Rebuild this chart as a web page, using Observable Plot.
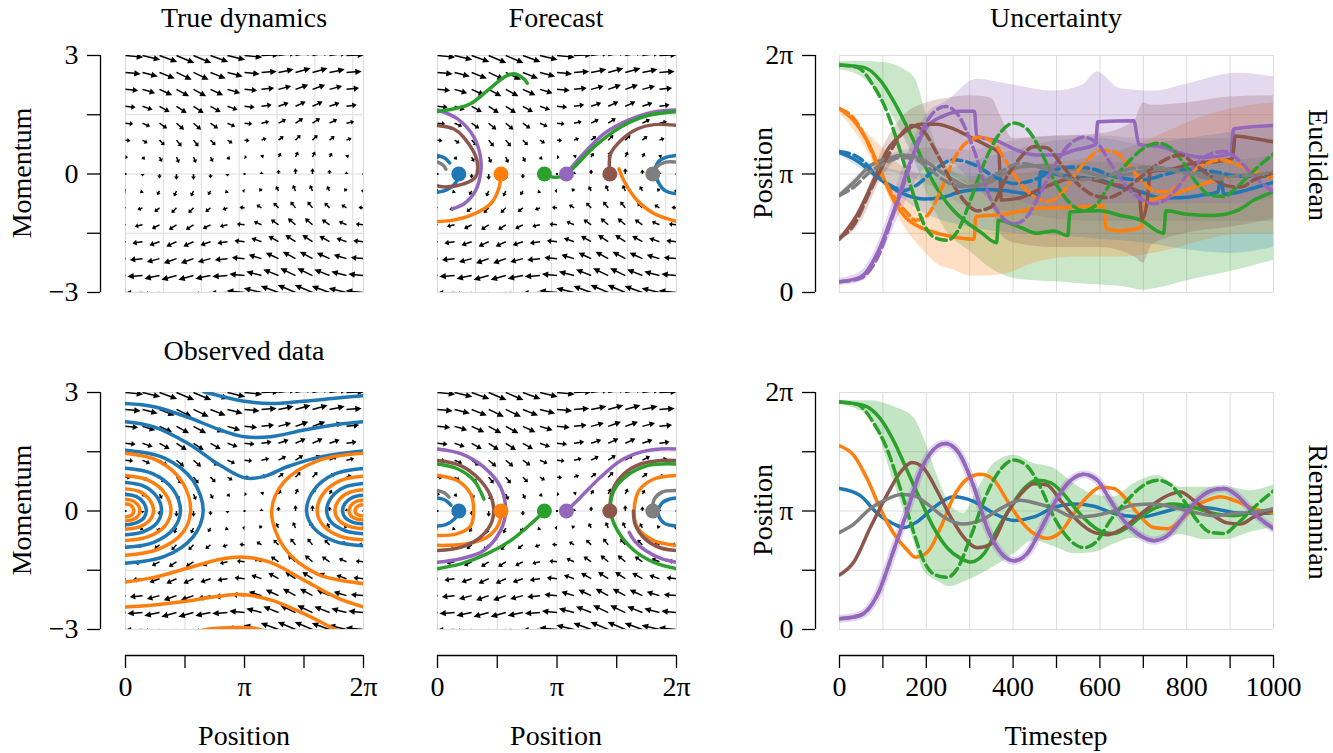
<!DOCTYPE html>
<html><head><meta charset="utf-8">
<script src="https://cdn.jsdelivr.net/npm/d3@7"></script>
<script src="https://cdn.jsdelivr.net/npm/@observablehq/plot@0.6"></script>
<style>
body{margin:0;background:#fff;}
#root{position:relative;width:1333px;height:753px;overflow:hidden;font-family:"Liberation Serif",serif;background:#fff;}
.lbl{position:absolute;font-size:28px;white-space:nowrap;line-height:1.15;color:#000;}
</style></head><body><div id="root"></div>
<script>
// ---------------- DATA ----------------
// quiver grid (position in radians, momentum)
const posGrid = [0, 0.449, 0.898, 1.346, 1.795, 2.244, 2.693, 3.142, 3.590, 4.039, 4.488, 4.937, 5.386, 5.834, 6.283];
const momGrid = [3, 2.571, 2.143, 1.714, 1.286, 0.857, 0.429, 0, -0.429, -0.857, -1.286, -1.714, -2.143, -2.571, -3];
const accelByPos = [0, -0.43, -0.78, -0.97, -0.97, -0.78, -0.43, 0, 0.43, 0.78, 0.97, 0.97, 0.78, 0.43, 0];
const dragByMom = [-0.3, -0.26, -0.21, -0.17, -0.13, -0.09, -0.04, 0, 0.04, 0.09, 0.13, 0.17, 0.21, 0.26, 0.3];

const posTicks = [0, 1.571, 3.142, 4.712, 6.283];
const posTickLabels = ["0", "", "π", "", "2π"];
const posGridTop = [0, 1, 2, 3, 4, 5, 6, 6.283];
const momTicks = [-3, -1.5, 0, 1.5, 3];
const momTickLabels = ["−3", "", "0", "", "3"];
const timeTicks = [0, 100, 200, 300, 400, 500, 600, 700, 800, 900, 1000];
const timeTickLabels = ["0", "", "200", "", "400", "", "600", "", "800", "", "1000"];
const angleTicks = [0, 0.5, 1, 1.5, 2]; // multiples of π
const angleTickLabels = ["0", "", "π", "", "2π"];

// observed data trajectories [position, momentum], one array per segment
const obsBlueA = [[2.07,3.02],[2.6,2.89],[3.14,2.78],[3.83,2.72],[4.71,2.78],[5.59,2.86],[6.283,2.92]];
const obsBlueB = [[0,2.72],[0.75,2.64],[1.63,2.38],[2.51,2.05],[3.14,1.88],[3.83,1.88],[4.71,2.05],[5.59,2.19],[6.283,2.26]];
const obsBlueC = [[0,2.26],[0.75,2.13],[1.63,1.72],[2.51,1.15],[3.14,0.84],[3.65,0.87],[4.27,1.12],[5.15,1.37],[6.283,1.52]];
const obsBlueL1 = [[0,1.54],[1.03,1.34],[1.78,0.77],[2.05,0],[1.78,-0.66],[1.03,-1.15],[0,-1.32]];
const obsBlueL3 = [[0,1.08],[0.73,0.94],[1.26,0.54],[1.45,0],[1.26,-0.46],[0.73,-0.8],[0,-0.92]];
const obsBlueL5 = [[0,0.72],[0.48,0.63],[0.83,0.36],[0.95,0],[0.83,-0.3],[0.48,-0.52],[0,-0.6]];
const obsBlueL7 = [[0,0.42],[0.28,0.37],[0.48,0.21],[0.55,0],[0.48,-0.18],[0.28,-0.3],[0,-0.35]];
const obsBlueR2 = [[6.283,1.08],[5.53,0.94],[4.98,0.54],[4.78,0],[4.98,-0.44],[5.53,-0.77],[6.283,-0.88]];
const obsBlueR4 = [[6.283,0.7],[5.8,0.61],[5.44,0.35],[5.31,0],[5.44,-0.29],[5.8,-0.5],[6.283,-0.58]];
const obsBlueR6 = [[6.283,0.4],[6.01,0.35],[5.8,0.2],[5.73,0],[5.8,-0.17],[6.01,-0.29],[6.283,-0.33]];
const obsOrangeD = [[6.283,-2.43],[5.59,-2.2],[4.71,-1.75],[3.83,-1.3],[3.14,-1.17],[2.51,-1.22],[1.63,-1.45],[0.75,-1.68],[0,-1.8]];
const obsOrangeE = [[0,-2.43],[0.75,-2.38],[1.63,-2.28],[2.51,-2.15],[3.14,-2.12],[3.83,-2.25],[4.71,-2.6],[5.5,-2.98],[5.8,-3.1]];
const obsOrangeF = [[1.7,-3.1],[2.2,-2.99],[2.9,-2.95],[3.4,-2.97],[3.9,-3.1]];
const obsOrangeL2 = [[0,1.46],[0.86,1.27],[1.5,0.73],[1.72,0],[1.5,-0.56],[0.86,-0.97],[0,-1.12]];
const obsOrangeL4 = [[0,0.9],[0.6,0.78],[1.04,0.45],[1.2,0],[1.04,-0.38],[0.6,-0.65],[0,-0.75]];
const obsOrangeL6 = [[0,0.56],[0.37,0.49],[0.64,0.28],[0.74,0],[0.64,-0.23],[0.37,-0.4],[0,-0.46]];
const obsOrangeL8 = [[0,0.3],[0.19,0.26],[0.33,0.15],[0.38,0],[0.33,-0.13],[0.19,-0.22],[0,-0.25]];
const obsOrangeL9 = [[0,0.18],[0.11,0.16],[0.19,0.09],[0.22,0],[0.19,-0.08],[0.11,-0.13],[0,-0.15]];
const obsOrangeR1 = [[6.283,1.46],[5.07,1.27],[4.18,0.73],[3.86,0],[4.18,-0.92],[5.07,-1.6],[6.283,-1.84]];
const obsOrangeR3 = [[6.283,0.88],[5.67,0.77],[5.22,0.44],[5.06,0],[5.22,-0.37],[5.67,-0.64],[6.283,-0.73]];
const obsOrangeR5 = [[6.283,0.54],[5.91,0.47],[5.63,0.27],[5.53,0],[5.63,-0.23],[5.91,-0.39],[6.283,-0.45]];
const obsOrangeR7 = [[6.283,0.28],[6.09,0.24],[5.95,0.14],[5.9,0],[5.95,-0.12],[6.09,-0.2],[6.283,-0.23]];
const obsOrangeR8 = [[6.283,0.16],[6.17,0.14],[6.09,0.08],[6.06,0],[6.09,-0.07],[6.17,-0.11],[6.283,-0.13]];

// forecast start positions (momentum 0): blue, orange, green, purple, brown, gray
const startPos = [0.56, 1.67, 2.81, 3.39, 4.53, 5.66];

// Euclidean forecast trajectories
const fcEuBlue = [[[0.56,0],[0.48,-0.22],[0.25,-0.4],[0,-0.46]], [[6.283,-0.5],[5.98,-0.42],[5.8,-0.2],[5.72,0.05],[5.8,0.3],[6.0,0.42],[6.283,0.47]], [[0,0.47],[0.2,0.4],[0.32,0.28]]];
const fcEuOrange = [[[1.66,0],[1.62,-0.34],[1.39,-0.76],[0.87,-1.05],[0.34,-1.18],[0,-1.2]], [[6.283,-1.2],[5.69,-1.0],[5.25,-0.67],[4.9,-0.17],[4.77,0.13]]];
const fcEuGreen = [[[2.8,0],[3.05,-0.08],[3.32,-0.05],[3.59,0.17],[4.11,0.68],[4.82,1.19],[5.52,1.48],[6.283,1.58]], [[0,1.58],[0.43,1.65],[0.87,1.78],[1.31,2.11],[1.75,2.45],[2.01,2.54],[2.27,2.41],[2.36,2.3]]];
const fcEuPurple = [[[3.39,0],[3.76,0.43],[4.38,1.02],[4.99,1.35],[5.69,1.57],[6.283,1.62]], [[0,1.62],[0.52,1.4],[0.96,0.93],[1.13,0.43],[1.13,0],[1.0,-0.42],[0.69,-0.76],[0.39,-0.88]]];
const fcEuBrown = [[[4.53,0],[4.55,0.51],[4.82,0.85],[5.25,1.14],[5.69,1.25],[6.283,1.23]], [[0,1.23],[0.43,1.14],[0.69,0.93],[1.04,0.34],[1.0,-0.08],[0.69,-0.25],[0.21,-0.33],[0,-0.3]]];
const fcEuGray = [[[5.66,0],[5.76,0.18],[6.0,0.3],[6.283,0.3]], [[0,0.3],[0.15,0.22],[0.22,0.12]]];

// Riemannian forecast trajectories
const fcRiBlue = [[[0.56,0],[0.45,-0.2],[0.2,-0.35],[0,-0.38]], [[6.283,-0.38],[5.95,-0.3],[5.8,-0.05],[5.9,0.2],[6.1,0.3],[6.283,0.33]], [[0,0.33],[0.2,0.28],[0.35,0.15]]];
const fcRiOrange = [[[1.68,0],[1.61,-0.33],[1.31,-0.66],[0.78,-0.83],[0.25,-0.87],[0,-0.87]], [[6.283,-0.87],[5.69,-0.75],[5.25,-0.41],[5.17,0],[5.3,0.52],[5.69,0.81],[6.283,0.9]], [[0,0.9],[0.52,0.77],[0.87,0.43],[0.95,0],[0.87,-0.38],[0.5,-0.58],[0,-0.62]]];
const fcRiGreen = [[[2.82,0],[2.45,-0.33],[1.92,-0.75],[1.31,-1.08],[0.61,-1.34],[0,-1.46]], [[6.283,-1.46],[5.69,-1.3],[5.17,-1.0],[4.73,-0.49],[4.55,0],[4.64,0.52],[4.99,0.9],[5.52,1.15],[6.283,1.19]], [[0,1.19],[0.52,1.07],[0.96,0.77],[1.22,0.3]]];
const fcRiPurple = [[[3.39,0],[3.76,0.35],[4.29,0.86],[4.82,1.28],[5.34,1.49],[5.87,1.57],[6.283,1.57]], [[0,1.57],[0.61,1.45],[1.22,1.11],[1.66,0.6],[1.79,0],[1.66,-0.49],[1.22,-1.0],[0.61,-1.21],[0,-1.3]], [[6.283,-1.3],[5.87,-1.2],[5.47,-1.0],[5.2,-0.78],[5.04,-0.54]]];
const fcRiBrown = [[[4.53,0],[4.6,0.52],[4.9,0.94],[5.34,1.19],[5.87,1.28],[6.283,1.28]], [[0,1.28],[0.61,1.15],[1.13,0.77],[1.44,0.27],[1.44,-0.24],[1.13,-0.66],[0.61,-0.92],[0,-1.0]], [[6.283,-1.0],[5.85,-0.93],[5.45,-0.7],[5.2,-0.35],[5.15,0]]];
const fcRiGray = [[[5.65,0],[5.7,0.3],[5.9,0.48],[6.283,0.52]], [[0,0.52],[0.2,0.45],[0.3,0.35]]];

// ground-truth position over time [timestep, position / π]
const truthBlue = [[0,1.19],[48,1.13],[87,0.98],[125,0.89],[148,0.86],[179,0.91],[217,1.03],[263,1.12],[310,1.08],[356,0.98],[402,0.92],[448,0.95],[494,1.03],[540,1.06],[586,1.04],[632,0.98],[694,0.95],[755,1.0],[801,1.04],[862,1.02],[924,0.98],[1000,0.98]];
const truthOrange = [[0,1.55],[33,1.47],[64,1.27],[94,1.02],[125,0.81],[156,0.67],[175,0.61],[202,0.65],[233,0.86],[263,1.12],[294,1.27],[325,1.31],[356,1.26],[386,1.09],[417,0.92],[448,0.81],[478,0.77],[509,0.82],[540,0.98],[571,1.12],[601,1.2],[632,1.19],[663,1.09],[694,0.95],[724,0.86],[755,0.85],[786,0.92],[816,1.03],[847,1.09],[878,1.12],[909,1.09],[955,1.02],[1000,0.98]];
const truthGreen = [[0,1.92],[41,1.9],[79,1.74],[110,1.52],[141,1.18],[171,0.82],[194,0.58],[221,0.46],[248,0.44],[271,0.51],[302,0.78],[333,1.09],[363,1.31],[402,1.43],[432,1.38],[463,1.2],[494,0.95],[532,0.75],[563,0.69],[594,0.75],[624,0.92],[663,1.09],[694,1.2],[732,1.26],[763,1.22],[793,1.09],[824,0.92],[855,0.82],[886,0.81],[916,0.89],[955,1.03],[1000,1.17]];
const truthPurple = [[0,0.09],[48,0.12],[87,0.29],[125,0.67],[156,1.0],[187,1.34],[217,1.52],[244,1.57],[271,1.51],[310,1.2],[340,0.86],[371,0.65],[402,0.58],[432,0.64],[463,0.84],[494,1.06],[525,1.23],[563,1.31],[594,1.26],[624,1.09],[655,0.92],[686,0.81],[724,0.75],[755,0.79],[786,0.92],[816,1.06],[855,1.17],[886,1.19],[916,1.13],[955,0.98],[1000,0.85]];
const truthBrown = [[0,0.46],[33,0.57],[71,0.86],[110,1.14],[141,1.33],[167,1.41],[194,1.36],[225,1.17],[256,0.95],[286,0.78],[317,0.69],[348,0.72],[386,0.98],[417,1.14],[448,1.23],[478,1.22],[509,1.09],[548,0.92],[586,0.82],[617,0.8],[647,0.84],[686,0.95],[724,1.06],[762,1.14],[786,1.16],[816,1.09],[855,0.98],[893,0.9],[924,0.89],[955,0.95],[1000,1.01]];
const truthGray = [[0,0.82],[33,0.89],[71,1.02],[110,1.1],[141,1.14],[171,1.13],[202,1.06],[240,0.95],[286,0.89],[325,0.92],[371,1.02],[417,1.09],[448,1.07],[494,1.02],[540,0.95],[586,0.96],[632,1.0],[678,1.05],[724,1.06],[770,1.03],[816,0.99],[862,0.96],[909,0.98],[955,0.99],[1000,1.02]];

// Euclidean predicted means [timestep, position / π]
const euclBlue = [[0,1.18],[41,1.11],[79,1.0],[118,0.89],[156,0.82],[194,0.79],[233,0.8],[279,0.85],[325,0.87],[379,0.86],[417,0.84],[459,0.82],[463,1.02],[509,0.99],[555,0.97],[601,0.95],[647,0.89],[694,0.85],[740,0.8],[786,0.8],[832,0.82],[872,0.85],[878,0.97],[886,0.83],[924,0.85],[962,0.89],[1000,0.93]];
const euclOrange = [[0,1.55],[33,1.45],[64,1.28],[94,1.03],[125,0.78],[156,0.62],[187,0.55],[225,0.5],[263,0.47],[310,0.45],[314,0.64],[379,0.66],[455,0.71],[532,0.72],[609,0.73],[614,0.54],[647,0.52],[695,0.55],[705,0.76],[763,0.82],[816,0.89],[878,0.96],[939,0.99],[1000,0.97]];
const euclGreen = [[0,1.92],[56,1.9],[94,1.79],[133,1.56],[171,1.28],[202,1.03],[233,0.83],[263,0.69],[294,0.59],[325,0.51],[362,0.42],[366,0.61],[417,0.55],[455,0.5],[494,0.52],[526,0.48],[531,0.68],[601,0.69],[647,0.65],[694,0.61],[747,0.5],[752,0.69],[801,0.66],[862,0.65],[916,0.69],[955,0.78],[1000,0.85]];
const euclPurple = [[0,0.09],[48,0.13],[87,0.33],[125,0.69],[164,1.11],[202,1.4],[240,1.49],[279,1.53],[311,1.53],[316,1.32],[363,1.28],[409,1.2],[455,1.16],[502,1.16],[540,1.2],[590,1.25],[595,1.44],[678,1.45],[690,1.25],[740,1.23],[801,1.16],[839,1.14],[902,1.17],[908,1.38],[1000,1.41]];
const euclBrown = [[0,0.45],[41,0.66],[79,0.95],[110,1.2],[148,1.35],[187,1.42],[225,1.42],[263,1.38],[302,1.31],[340,1.24],[367,1.18],[373,0.78],[417,0.8],[455,0.86],[494,0.92],[532,0.96],[571,0.96],[617,0.92],[663,0.89],[690,0.85],[697,0.62],[710,0.8],[716,1.02],[763,1.04],[816,1.09],[878,1.11],[905,1.13],[912,1.32],[955,1.3],[1000,1.27]];
const euclGray = [[0,0.82],[33,0.93],[71,1.07],[110,1.13],[148,1.16],[187,1.13],[225,1.04],[263,0.95],[302,0.89],[340,0.92],[379,1.0],[417,1.06],[463,1.07],[509,1.06],[555,1.03],[601,0.99],[647,0.99],[694,1.02],[740,1.04],[786,1.03],[832,1.0],[878,0.99],[924,0.99],[1000,1.0]];

// Euclidean uncertainty bands [timestep, low / π, high / π]
const bandEuBlue = [[0,1.16,1.2],[100,0.92,1.06],[200,0.66,1.0],[300,0.55,1.1],[400,0.5,1.2],[500,0.48,1.28],[600,0.45,1.3],[700,0.42,1.25],[800,0.36,1.3],[900,0.33,1.35],[1000,0.38,1.4]];
const bandEuOrange = [[0,1.52,1.58],[60,1.22,1.36],[100,0.92,1.22],[150,0.55,1.05],[187,0.38,1.0],[225,0.24,0.96],[263,0.19,0.95],[300,0.14,0.95],[340,0.14,0.98],[386,0.16,1.02],[450,0.25,1.08],[550,0.3,1.12],[650,0.3,1.2],[750,0.35,1.35],[850,0.45,1.5],[950,0.5,1.58],[1000,0.5,1.6]];
const bandEuGreen = [[0,1.88,1.95],[50,1.82,1.95],[100,1.62,1.94],[150,1.3,1.88],[175,1.1,1.8],[200,0.85,1.5],[225,0.65,1.22],[250,0.5,1.05],[300,0.35,0.98],[350,0.2,0.98],[400,0.12,1.0],[450,0.1,1.02],[500,0.09,1.05],[570,0.07,1.1],[650,0.05,1.1],[700,0.02,1.08],[750,0.05,1.05],[800,0.1,1.06],[880,0.16,1.1],[1000,0.27,1.15]];
const bandEuPurple = [[0,0.06,0.12],[50,0.09,0.18],[100,0.35,0.52],[150,0.75,1.1],[200,1.05,1.5],[250,1.1,1.62],[317,0.9,1.8],[386,0.8,1.76],[494,0.72,1.7],[560,0.72,1.75],[594,0.75,1.86],[647,0.75,1.72],[724,0.75,1.7],[801,0.75,1.76],[916,0.75,1.85],[1000,0.8,1.82]];
const bandEuBrown = [[0,0.43,0.48],[50,0.6,0.72],[100,0.98,1.22],[150,1.15,1.5],[200,1.1,1.6],[250,1.0,1.64],[300,0.9,1.66],[350,0.75,1.64],[370,0.5,1.5],[400,0.42,1.3],[500,0.38,1.32],[600,0.38,1.34],[680,0.3,1.45],[700,0.25,1.6],[720,0.4,1.58],[800,0.5,1.6],[900,0.55,1.65],[1000,0.62,1.66]];
const bandEuGray = [[0,0.8,0.84],[100,1.02,1.14],[200,0.92,1.22],[300,0.72,1.2],[400,0.68,1.28],[500,0.62,1.32],[600,0.6,1.32],[700,0.6,1.3],[800,0.6,1.3],[900,0.6,1.3],[1000,0.6,1.3]];

// Riemannian predicted mean (green deviates; others follow the truth)
const riemGreen = [[0,1.92],[56,1.89],[94,1.78],[125,1.59],[156,1.34],[187,1.09],[217,0.86],[248,0.69],[279,0.6],[302,0.57],[333,0.64],[363,0.84],[394,1.03],[425,1.19],[455,1.26],[486,1.24],[517,1.14],[548,1.0],[578,0.89],[609,0.82],[632,0.81],[663,0.86],[694,0.95],[724,1.02],[770,1.06],[816,1.03],[862,0.98],[909,0.96],[955,0.99],[1000,1.0]];
const bandRiGreen = [[0,1.9,1.93],[71,1.79,1.93],[125,1.25,1.88],[171,0.75,1.79],[194,0.5,1.62],[225,0.41,1.3],[256,0.36,1.05],[286,0.4,0.98],[317,0.45,1.17],[356,0.53,1.4],[402,0.64,1.47],[448,0.75,1.4],[494,0.7,1.36],[540,0.64,1.23],[586,0.65,1.14],[632,0.72,1.12],[678,0.77,1.23],[732,0.76,1.3],[786,0.8,1.2],[839,0.76,1.2],[893,0.76,1.2],[947,0.82,1.17],[1000,0.86,1.22]];

// ---------------- RENDER ----------------
const C = {blue:"#1f77b4", orange:"#ff7f0e", green:"#2ca02c", purple:"#9467bd", brown:"#8c564b", gray:"#7f7f7f"};
const startColors = [C.blue, C.orange, C.green, C.purple, C.brown, C.gray];
const root = document.getElementById("root");
const FONT = "Liberation Serif";
const FS = 28;
const GRID = "#dcdcdc";
const LW = 3.5;

const field = [];
momGrid.forEach((p, i) => posGrid.forEach((q, j) => {
  const u = p, v = accelByPos[j] + dragByMom[i];
  field.push({q, p, mag: Math.hypot(u, v), ang: Math.atan2(u, v) * 180 / Math.PI});
}));

const arrowShape = {
  draw(ctx, l) {
    if (l < 1) { ctx.moveTo(-1, 1); ctx.lineTo(1, 1); ctx.lineTo(1, -1); ctx.lineTo(-1, -1); ctx.closePath(); return; }
    const hl = Math.min(6.5, Math.max(3.2, l * 0.42)), hw = Math.min(3.1, 1.9 + l * 0.09), sw = 0.75;
    const b = Math.max(0, l - hl);
    ctx.moveTo(-sw, 0); ctx.lineTo(-sw, -b); ctx.lineTo(-hw, -b); ctx.lineTo(0, -l);
    ctx.lineTo(hw, -b); ctx.lineTo(sw, -b); ctx.lineTo(sw, 0); ctx.closePath();
  }
};

function segRows(segs) { const rows = []; segs.forEach((s, k) => s.forEach(([q, p]) => rows.push({q, p, k}))); return rows; }

function place(svg, left, top) {
  svg.style.position = "absolute"; svg.style.left = left + "px"; svg.style.top = top + "px";
  root.appendChild(svg);
}
function label(text, x, y, rot = 0) {
  const d = document.createElement("div"); d.className = "lbl"; d.textContent = text;
  d.style.left = x + "px"; d.style.top = y + "px";
  d.style.transform = `translate(-50%,-50%) rotate(${rot}deg)`;
  root.appendChild(d);
}
const fmt = (ticks, labels) => (d) => labels[ticks.indexOf(d)] ?? "";

function quiverPanel({x0, y0, w, h, gridQ, lines, dots, leftAxis, bottomAxis}) {
  const mL = leftAxis ? 110 : 8, mR = 8, mT = 6, mB = bottomAxis ? 100 : 6;
  const marks = [
    Plot.ruleX(gridQ, {stroke: GRID, strokeWidth: 1}),
    Plot.ruleY(momTicks, {stroke: GRID, strokeWidth: 1}),
    Plot.vector(field, {x: "q", y: "p", length: "mag", rotate: "ang", anchor: "start", shape: arrowShape, fill: "black", stroke: "none", clip: true})
  ];
  for (const [segs, color] of lines) {
    marks.push(Plot.line(segRows(segs), {x: "q", y: "p", z: "k", stroke: color, strokeWidth: LW, curve: "catmull-rom", clip: true}));
  }
  if (dots) marks.push(Plot.dot(startPos.map((q, i) => ({q, p: 0, c: startColors[i]})), {x: "q", y: "p", fill: "c", r: 7.5, stroke: "none"}));
  if (leftAxis) {
    marks.push(Plot.axisY(momTicks, {tickFormat: fmt(momTicks, momTickLabels), tickSize: 13, tickPadding: 9, dx: -25, label: null, strokeWidth: 1.3}));
    marks.push(Plot.ruleX([0], {y1: -3, y2: 3, dx: -25, stroke: "black", strokeWidth: 1.3}));
  }
  if (bottomAxis) {
    marks.push(Plot.axisX(posTicks, {tickFormat: fmt(posTicks, posTickLabels), tickSize: 13, tickPadding: 8, dy: 26, label: null, strokeWidth: 1.3}));
    marks.push(Plot.ruleY([-3], {x1: 0, x2: 6.283, dy: 26, stroke: "black", strokeWidth: 1.3}));
  }
  const svg = Plot.plot({
    width: mL + w + mR, height: mT + h + mB,
    marginLeft: mL, marginRight: mR, marginTop: mT, marginBottom: mB,
    x: {domain: [0, 6.283], axis: null}, y: {domain: [-3, 3], axis: null},
    length: {domain: [0, 3.3], range: [0, 19.5]},
    color: {type: "identity"},
    style: {fontFamily: FONT, fontSize: FS + "px", background: "transparent", overflow: "visible", color: "black"},
    marks
  });
  place(svg, x0 - mL, y0 - mT);
}

function seriesPanel({x0, y0, w, h, bands, means, halos, truths, bottomAxis}) {
  const mL = 110, mR = 8, mT = 6, mB = bottomAxis ? 100 : 6;
  const marks = [
    Plot.ruleX(timeTicks, {stroke: GRID, strokeWidth: 1}),
    Plot.ruleY(angleTicks, {stroke: GRID, strokeWidth: 1})
  ];
  for (const [b, color, op] of bands) {
    marks.push(Plot.areaY(b, {x: d => d[0], y1: d => d[1], y2: d => d[2], fill: color, fillOpacity: op, curve: "monotone-x", clip: true}));
  }
  for (const [s, color] of halos) {
    marks.push(Plot.line(s, {x: d => d[0], y: d => d[1], stroke: color, strokeWidth: 8, strokeOpacity: 0.28, curve: "monotone-x", clip: true}));
  }
  for (const [s, color] of means) {
    marks.push(Plot.line(s, {x: d => d[0], y: d => d[1], stroke: color, strokeWidth: LW, curve: "monotone-x", clip: true}));
  }
  for (const [s, color] of truths) {
    marks.push(Plot.line(s, {x: d => d[0], y: d => d[1], stroke: color, strokeWidth: LW, strokeDasharray: "10,5", curve: "monotone-x", clip: true}));
  }
  marks.push(Plot.axisY(angleTicks, {tickFormat: fmt(angleTicks, angleTickLabels), tickSize: 13, tickPadding: 9, dx: -24, label: null, strokeWidth: 1.3}));
  marks.push(Plot.ruleX([0], {y1: 0, y2: 2, dx: -24, stroke: "black", strokeWidth: 1.3}));
  if (bottomAxis) {
    marks.push(Plot.axisX(timeTicks, {tickFormat: fmt(timeTicks, timeTickLabels), tickSize: 13, tickPadding: 8, dy: 26, label: null, strokeWidth: 1.3}));
    marks.push(Plot.ruleY([0], {x1: 0, x2: 1000, dy: 26, stroke: "black", strokeWidth: 1.3}));
  }
  const svg = Plot.plot({
    width: mL + w + mR, height: mT + h + mB,
    marginLeft: mL, marginRight: mR, marginTop: mT, marginBottom: mB,
    x: {domain: [0, 1000], axis: null}, y: {domain: [0, 2], axis: null},
    style: {fontFamily: FONT, fontSize: FS + "px", background: "transparent", overflow: "visible", color: "black"},
    marks
  });
  place(svg, x0 - mL, y0 - mT);
}

const H = 237;
// Row 1
quiverPanel({x0: 125, y0: 55, w: 238, h: H, gridQ: posGridTop, lines: [], dots: false, leftAxis: true, bottomAxis: false});
quiverPanel({x0: 437, y0: 55, w: 239, h: H, gridQ: posGridTop, dots: true, leftAxis: false, bottomAxis: false,
  lines: [[fcEuBlue, C.blue], [fcEuGray, C.gray], [fcEuOrange, C.orange], [fcEuBrown, C.brown], [fcEuPurple, C.purple], [fcEuGreen, C.green]]});
seriesPanel({x0: 839, y0: 55, w: 434, h: H, bottomAxis: false,
  bands: [[bandEuGreen, C.green, 0.25], [bandEuOrange, C.orange, 0.25], [bandEuBlue, C.blue, 0.2], [bandEuGray, C.gray, 0.2], [bandEuBrown, C.brown, 0.25], [bandEuPurple, C.purple, 0.25]],
  halos: [],
  means: [[euclBlue, C.blue], [euclOrange, C.orange], [euclGreen, C.green], [euclPurple, C.purple], [euclBrown, C.brown], [euclGray, C.gray]],
  truths: [[truthBlue, C.blue], [truthOrange, C.orange], [truthGreen, C.green], [truthPurple, C.purple], [truthBrown, C.brown], [truthGray, C.gray]]});
// Row 2
quiverPanel({x0: 125, y0: 392, w: 238, h: H, gridQ: posTicks, dots: false, leftAxis: true, bottomAxis: true,
  lines: [[[obsBlueA, obsBlueB, obsBlueC, obsBlueL1, obsBlueL3, obsBlueL5, obsBlueL7, obsBlueR2, obsBlueR4, obsBlueR6], C.blue],
          [[obsOrangeD, obsOrangeE, obsOrangeF, obsOrangeL2, obsOrangeL4, obsOrangeL6, obsOrangeL8, obsOrangeL9, obsOrangeR1, obsOrangeR3, obsOrangeR5, obsOrangeR7, obsOrangeR8], C.orange]]});
quiverPanel({x0: 437, y0: 392, w: 239, h: H, gridQ: posTicks, dots: true, leftAxis: false, bottomAxis: true,
  lines: [[fcRiBlue, C.blue], [fcRiGray, C.gray], [fcRiOrange, C.orange], [fcRiBrown, C.brown], [fcRiGreen, C.green], [fcRiPurple, C.purple]]});
seriesPanel({x0: 839, y0: 392, w: 434, h: H, bottomAxis: true,
  bands: [[bandRiGreen, C.green, 0.28]],
  halos: [[truthPurple, C.purple]],
  means: [[truthBlue, C.blue], [truthOrange, C.orange], [riemGreen, C.green], [truthPurple, C.purple], [truthBrown, C.brown], [truthGray, C.gray]],
  truths: [[truthGreen, C.green], [truthPurple, C.purple]]});

// text
label("True dynamics", 244, 18);
label("Forecast", 556, 18);
label("Uncertainty", 1056, 18);
label("Observed data", 244, 351);
label("Momentum", 22, 173, -90);
label("Momentum", 22, 510, -90);
label("Position", 763, 173, -90);
label("Position", 763, 510, -90);
label("Euclidean", 1318, 165, 90);
label("Riemannian", 1318, 512, 90);
label("Position", 244, 736);
label("Position", 556, 736);
label("Timestep", 1056, 736);
</script></body></html>
